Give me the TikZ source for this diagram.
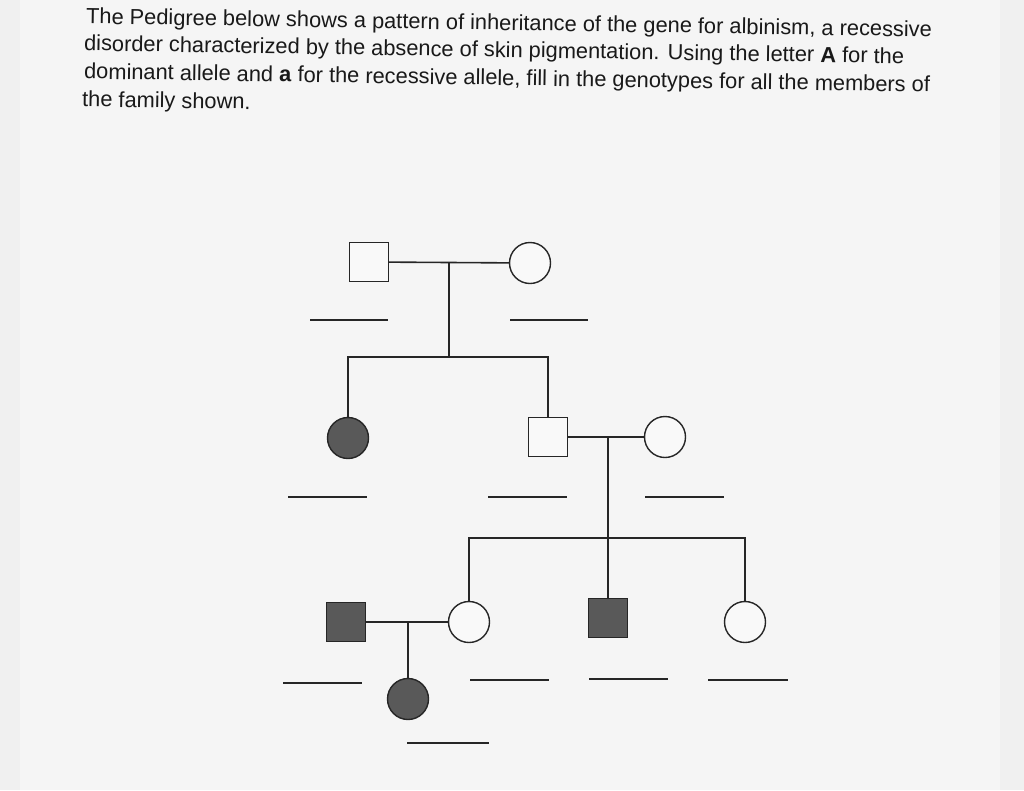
\documentclass[tikz,border=0pt]{standalone}
\usepackage{fontspec}
\setmainfont{Liberation Sans}
\begin{document}
\begin{tikzpicture}[x=1pt,y=-1pt,
  line/.style={draw=black!85,line width=1.6pt},
  male/.style={rectangle,draw=black!85,line width=1.4pt,minimum size=39pt,inner sep=0pt,fill=white!95!gray},
  female/.style={circle,draw=black!85,line width=1.4pt,minimum size=41pt,inner sep=0pt,fill=white!95!gray},
  aff/.style={fill=black!65},
  blank/.style={draw=black!85,line width=1.4pt},
  txt/.style={anchor=west,font=\fontsize{21.8pt}{24pt}\selectfont,inner sep=0pt,text=black!90}]
\useasboundingbox (0,0) rectangle (1024,790);
\fill[gray!12] (0,0) rectangle (1024,790);
\fill[white!92!gray] (20,0) rectangle (1000,790);
% text
\node[txt,rotate=-0.9] (t1) at (86,18) {The Pedigree below shows a pattern of inheritance of the gene for albinism, a recessive};
\node[txt,rotate=-0.9] (t2) at (84,45) {disorder characterized by the absence of skin pigmentation. Using the letter \textbf{A} for the};
\node[txt,rotate=-0.9] (t3) at (84,73) {dominant allele and \textbf{a} for the recessive allele, fill in the genotypes for all the members of};
\node[txt,rotate=-0.9] (t4) at (82,101) {the family shown.};
% Gen I
\node[male] (i1) at (369,262) {};
\node[female] (i2) at (530,263) {};
\coordinate (m1) at (449,262);
\coordinate (s1) at (449,357);
\coordinate (s1l) at (348,357);
\coordinate (s1r) at (548,357);
% Gen II
\node[female,aff] (ii1) at (348,438) {};
\node[male] (ii2) at (548,437) {};
\node[female] (ii3) at (665,437) {};
\coordinate (m2) at (608,437);
\coordinate (s2) at (608,538);
\coordinate (s2l) at (469,538);
\coordinate (s2r) at (745,538);
% Gen III
\node[male,aff] (iii0) at (346,622) {};
\node[female] (iii1) at (469,622) {};
\node[male,aff] (iii2) at (608,618) {};
\node[female] (iii3) at (745,622) {};
\coordinate (m3) at (408,622);
% Gen IV
\node[female,aff] (iv1) at (408,699) {};
% lines
\draw[line] (i1) -- (i2);
\draw[line] (m1) -- (s1);
\draw[line] (ii1.north) -- (s1l) -- (s1r) -- (ii2.north);
\draw[line] (ii2) -- (ii3);
\draw[line] (m2) -- (s2);
\draw[line] (iii1.north) -- (s2l) -- (s2r) -- (iii3.north);
\draw[line] (s2) -- (iii2.north);
\draw[line] (iii0) -- (iii1);
\draw[line] (m3) -- (iv1.north);
% blanks
\foreach \a/\b/\y in {310/388/320, 510/588/320, 288/367/497, 488/567/497, 645/724/497, 283/362/683, 470/549/680, 589/668/679, 708/788/680, 407/489/743}
  \draw[blank] (\a,\y) -- (\b,\y);
\end{tikzpicture}
\end{document}
